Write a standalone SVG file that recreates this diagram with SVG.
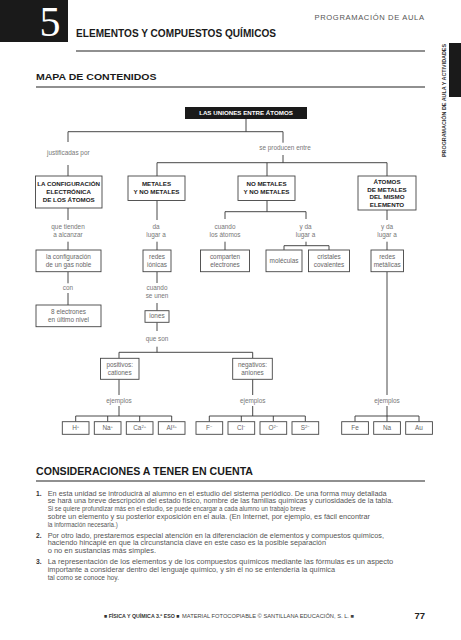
<svg xmlns="http://www.w3.org/2000/svg" width="461" height="640" viewBox="0 0 461 640">
<style>
.ln{stroke:#333;stroke-width:0.9;fill:none}
.hl{stroke:#222;stroke-width:1.1;fill:none}
.bx{fill:#fff;stroke:#444;stroke-width:0.9}
.bt{font-family:"Liberation Sans",Arial,sans-serif;font-weight:bold;font-size:6.2px;fill:#222;text-anchor:middle}
.lb{font-family:"Liberation Sans",Arial,sans-serif;font-size:6.4px;fill:#777;text-anchor:middle}
.bxt{font-family:"Liberation Sans",Arial,sans-serif;font-size:6.4px;fill:#666;text-anchor:middle}
.sup{font-size:4.2px}
.h{font-family:"Liberation Sans",Arial,sans-serif;font-weight:bold;fill:#1a1a1a}
.body{font-family:"Liberation Sans",Arial,sans-serif;font-size:6.7px;fill:#555}
.num{font-family:"Liberation Sans",Arial,sans-serif;font-size:6.7px;font-weight:bold;fill:#333}
</style>
<rect width="461" height="640" fill="#fff"/>

<g id="header">
<rect x="0" y="0" width="68" height="42" fill="#1a1a1a"/>
<text x="50" y="35.5" font-family="Liberation Serif,serif" font-size="42" fill="#fff" text-anchor="middle">5</text>
<text x="76" y="36.7" class="h" font-size="10" textLength="200" lengthAdjust="spacingAndGlyphs">ELEMENTOS Y COMPUESTOS QUÍMICOS</text>
<text x="424" y="19.5" font-family="Liberation Sans,Arial,sans-serif" font-size="7.6" fill="#555" text-anchor="end" textLength="109.5" lengthAdjust="spacing">PROGRAMACIÓN DE AULA</text>
<line x1="76" y1="51" x2="425" y2="51" class="hl"/>
<text x="36" y="80" class="h" font-size="9.8" textLength="120.5" lengthAdjust="spacingAndGlyphs">MAPA DE CONTENIDOS</text>
<line x1="36" y1="87" x2="425" y2="87" class="hl"/>
<rect x="449" y="43" width="12" height="54" fill="#1a1a1a"/>
<text transform="translate(445.5,157) rotate(-90)" font-family="Liberation Sans,Arial,sans-serif" font-weight="bold" font-size="5.4" fill="#333" textLength="113" lengthAdjust="spacingAndGlyphs">PROGRAMACIÓN DE AULA Y ACTIVIDADES</text>
</g>

<g id="connectors">
<path class="ln" d="M246 119V131.7M68 131.7H283M68 131.7V142M68 165V176M283 131.7V142.7M283 155V162.7M157 162.7H387M157 162.7V176M267 162.7V176M387 162.7V176"/>
<path class="ln" d="M68 208V220M68 241.7V250M157 200V220M157 241.7V250M267 200V211.7M225 211.7H306M225 211.7V219M306 211.7V219M225 241.7V250M306 241.7V245.7M284 245.7H329M284 245.7V250M329 245.7V250M387 210V220M387 241.7V250"/>
<path class="ln" d="M68 271.7V283.3M68 293V305M157 271.7V283M157 303V310.7M157 322.3V331M157 346.7V352.3M119 352.3H252.7M119 352.3V358.3M252.7 352.3V358.3"/>
<path class="ln" d="M119 379.3V395M119 406V416M75.7 416H171.7M75.7 416V421.7M107.7 416V421.7M139.7 416V421.7M171.7 416V421.7"/>
<path class="ln" d="M252.7 379.3V395M252.7 406V416M209.3 416H305.3M209.3 416V421.7M241.3 416V421.7M273.3 416V421.7M305.3 416V421.7"/>
<path class="ln" d="M387 271.7V395M387 406V416M355 416H419M355 416V421.7M387 416V421.7M419 416V421.7"/>
</g>

<g id="labels">
<text class="lb" x="68.3" y="155.3">justificadas por</text>
<text class="lb" x="285" y="150">se producen entre</text>
<text class="lb" x="68" y="228.9">que tienden</text>
<text class="lb" x="68" y="236.6">a alcanzar</text>
<text class="lb" x="156" y="228.9">da</text>
<text class="lb" x="156" y="236.6">lugar a</text>
<text class="lb" x="225" y="228.9">cuando</text>
<text class="lb" x="225" y="236.6">los átomos</text>
<text class="lb" x="305.5" y="228.9">y da</text>
<text class="lb" x="305.5" y="236.6">lugar a</text>
<text class="lb" x="387" y="228.9">y da</text>
<text class="lb" x="387" y="236.6">lugar a</text>
<text class="lb" x="68" y="290">con</text>
<text class="lb" x="157" y="290">cuando</text>
<text class="lb" x="157" y="298.2">se unen</text>
<text class="lb" x="157" y="341.3">que son</text>
<text class="lb" x="119" y="402.9">ejemplos</text>
<text class="lb" x="252.7" y="402.9">ejemplos</text>
<text class="lb" x="387" y="402.9">ejemplos</text>
</g>

<g id="n-uniones">
<rect x="185" y="107" width="122" height="12" fill="#1a1a1a"/>
<text class="bt" x="246" y="115.3" style="fill:#fff">LAS UNIONES ENTRE ÁTOMOS</text>
</g>
<g id="n-configuracion">
<rect class="bx" x="35.5" y="176" width="66.5" height="32"/>
<text class="bt" x="68.7" y="186.3">LA CONFIGURACIÓN</text>
<text class="bt" x="68.7" y="194.3">ELECTRÓNICA</text>
<text class="bt" x="68.7" y="202.3">DE LOS ÁTOMOS</text>
</g>
<g id="n-metales">
<rect class="bx" x="128" y="176" width="57" height="24.5"/>
<text class="bt" x="156.5" y="186.3">METALES</text>
<text class="bt" x="156.5" y="194.3">Y NO METALES</text>
</g>
<g id="n-nometales">
<rect class="bx" x="238" y="176" width="57" height="24.5"/>
<text class="bt" x="266.5" y="186.3">NO METALES</text>
<text class="bt" x="266.5" y="194.3">Y NO METALES</text>
</g>
<g id="n-atomos">
<rect class="bx" x="358" y="176" width="58" height="34"/>
<text class="bt" x="387" y="184.2">ÁTOMOS</text>
<text class="bt" x="387" y="191.8">DE METALES</text>
<text class="bt" x="387" y="199.4">DEL MISMO</text>
<text class="bt" x="387" y="207">ELEMENTO</text>
</g>

<g id="n-gasnoble">
<rect class="bx" x="36" y="250" width="65" height="21.7"/>
<text class="bxt" x="68.5" y="259">la configuración</text>
<text class="bxt" x="68.5" y="267.3">de un gas noble</text>
</g>
<g id="n-redesionicas">
<rect class="bx" x="143" y="250" width="28" height="21.7"/>
<text class="bxt" x="157" y="259">redes</text>
<text class="bxt" x="157" y="267.3">iónicas</text>
</g>
<g id="n-comparten">
<rect class="bx" x="200.5" y="250" width="49" height="21.7"/>
<text class="bxt" x="225" y="259">comparten</text>
<text class="bxt" x="225" y="267.3">electrones</text>
</g>
<g id="n-moleculas">
<rect class="bx" x="266" y="250" width="36" height="21.7"/>
<text class="bxt" x="284" y="263">moléculas</text>
</g>
<g id="n-cristales">
<rect class="bx" x="308.5" y="250" width="41" height="21.7"/>
<text class="bxt" x="329" y="259">cristales</text>
<text class="bxt" x="329" y="267.3">covalentes</text>
</g>
<g id="n-redesmetalicas">
<rect class="bx" x="371" y="250" width="32.5" height="21.7"/>
<text class="bxt" x="387.2" y="259">redes</text>
<text class="bxt" x="387.2" y="267.3">metálicas</text>
</g>
<g id="n-electrones">
<rect class="bx" x="36" y="305" width="65" height="21.7"/>
<text class="bxt" x="68.5" y="314">8 electrones</text>
<text class="bxt" x="68.5" y="321.7">en último nivel</text>
</g>
<g id="n-iones">
<rect class="bx" x="145" y="310.7" width="24" height="11.6"/>
<text class="bxt" x="157" y="318.4">iones</text>
</g>
<g id="n-positivos">
<rect class="bx" x="100.5" y="358.3" width="38.5" height="21"/>
<text class="bxt" x="119.7" y="367.2">positivos:</text>
<text class="bxt" x="119.7" y="375">cationes</text>
</g>
<g id="n-negativos">
<rect class="bx" x="232.7" y="358.3" width="39.6" height="21"/>
<text class="bxt" x="252.5" y="367.2">negativos:</text>
<text class="bxt" x="252.5" y="375">aniones</text>
</g>

<g id="n-H"><rect class="bx" x="62.3" y="421.7" width="26.7" height="12.6"/><text class="bxt" x="75.7" y="430.3">H<tspan class="sup" dy="-2">+</tspan></text></g>
<g id="n-Na1"><rect class="bx" x="94.3" y="421.7" width="26.7" height="12.6"/><text class="bxt" x="107.7" y="430.3">Na<tspan class="sup" dy="-2">+</tspan></text></g>
<g id="n-Ca"><rect class="bx" x="126.3" y="421.7" width="26.7" height="12.6"/><text class="bxt" x="139.7" y="430.3">Ca<tspan class="sup" dy="-2">2+</tspan></text></g>
<g id="n-Al"><rect class="bx" x="158.3" y="421.7" width="26.7" height="12.6"/><text class="bxt" x="171.7" y="430.3">Al<tspan class="sup" dy="-2">3+</tspan></text></g>
<g id="n-F"><rect class="bx" x="196" y="421.7" width="26.7" height="12.6"/><text class="bxt" x="209.3" y="430.3">F<tspan class="sup" dy="-2">−</tspan></text></g>
<g id="n-Cl"><rect class="bx" x="228" y="421.7" width="26.7" height="12.6"/><text class="bxt" x="241.3" y="430.3">Cl<tspan class="sup" dy="-2">−</tspan></text></g>
<g id="n-O"><rect class="bx" x="260" y="421.7" width="26.7" height="12.6"/><text class="bxt" x="273.3" y="430.3">O<tspan class="sup" dy="-2">2−</tspan></text></g>
<g id="n-S"><rect class="bx" x="292" y="421.7" width="26.7" height="12.6"/><text class="bxt" x="305.3" y="430.3">S<tspan class="sup" dy="-2">2−</tspan></text></g>
<g id="n-Fe"><rect class="bx" x="341.7" y="421.7" width="26.7" height="12.6"/><text class="bxt" x="355" y="430.3">Fe</text></g>
<g id="n-Na2"><rect class="bx" x="373.7" y="421.7" width="26.7" height="12.6"/><text class="bxt" x="387" y="430.3">Na</text></g>
<g id="n-Au"><rect class="bx" x="405.7" y="421.7" width="26.7" height="12.6"/><text class="bxt" x="419" y="430.3">Au</text></g>

<g id="consideraciones">
<text x="36" y="474.5" class="h" font-size="10" textLength="217" lengthAdjust="spacingAndGlyphs">CONSIDERACIONES A TENER EN CUENTA</text>
<line x1="36" y1="481" x2="425" y2="481" class="hl"/>
<text class="num" x="36" y="495.5">1.</text>
<text class="body" x="47.7" y="495.5" textLength="339" lengthAdjust="spacingAndGlyphs">En esta unidad se introducirá al alumno en el estudio del sistema periódico. De una forma muy detallada</text>
<text class="body" x="47.7" y="503.3" textLength="345.6" lengthAdjust="spacingAndGlyphs">se hará una breve descripción del estado físico, nombre de las familias químicas y curiosidades de la tabla.</text>
<text class="body" x="47.7" y="511.1" textLength="258" lengthAdjust="spacingAndGlyphs">Si se quiere profundizar más en el estudio, se puede encargar a cada alumno un trabajo breve</text>
<text class="body" x="47.7" y="518.9" textLength="322.3" lengthAdjust="spacingAndGlyphs">sobre un elemento y su posterior exposición en el aula. (En Internet, por ejemplo, es fácil encontrar</text>
<text class="body" x="47.7" y="526.7" textLength="70" lengthAdjust="spacingAndGlyphs">la información necesaria.)</text>
<text class="num" x="36" y="537.6">2.</text>
<text class="body" x="47.7" y="537.6" textLength="336.3" lengthAdjust="spacingAndGlyphs">Por otro lado, prestaremos especial atención en la diferenciación de elementos y compuestos químicos,</text>
<text class="body" x="47.7" y="545.4" textLength="278.3" lengthAdjust="spacingAndGlyphs">haciendo hincapié en que la circunstancia clave en este caso es la posible separación</text>
<text class="body" x="47.7" y="553.2" textLength="108.3" lengthAdjust="spacingAndGlyphs">o no en sustancias más simples.</text>
<text class="num" x="36" y="564.1">3.</text>
<text class="body" x="47.7" y="564.1" textLength="345.6" lengthAdjust="spacingAndGlyphs">La representación de los elementos y de los compuestos químicos mediante las fórmulas es un aspecto</text>
<text class="body" x="47.7" y="571.9" textLength="287.3" lengthAdjust="spacingAndGlyphs">importante a considerar dentro del lenguaje químico, y sin él no se entendería la química</text>
<text class="body" x="47.7" y="579.7" textLength="71.3" lengthAdjust="spacingAndGlyphs">tal como se conoce hoy.</text>
</g>

<g id="footer">
<text x="104" y="617.5" font-family="Liberation Sans,Arial,sans-serif" font-weight="bold" font-size="5.6" fill="#333" textLength="75.5" lengthAdjust="spacingAndGlyphs">■ FÍSICA Y QUÍMICA 3.º ESO ■</text>
<text x="182" y="617.5" font-family="Liberation Sans,Arial,sans-serif" font-size="5.6" fill="#444" textLength="172" lengthAdjust="spacingAndGlyphs">MATERIAL FOTOCOPIABLE © SANTILLANA EDUCACIÓN, S. L. ■</text>
<text x="425" y="618.5" font-family="Liberation Sans,Arial,sans-serif" font-weight="bold" font-size="9.5" fill="#222" text-anchor="end">77</text>
</g>
</svg>
